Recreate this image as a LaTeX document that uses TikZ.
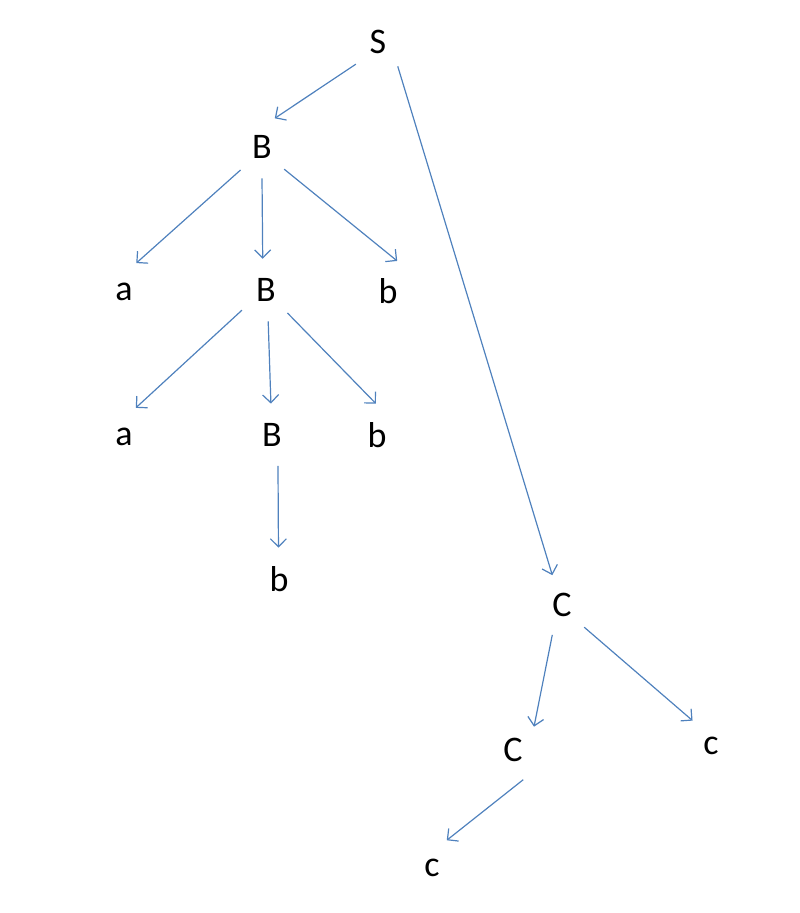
\documentclass[tikz,border=0pt]{standalone}
\usepackage{fontspec}
\setmainfont{Carlito}
\usetikzlibrary{arrows.meta}
\definecolor{treeblue}{RGB}{79,129,189}
\tikzset{sym/.style={circle, minimum size=31pt, inner sep=0pt, font=\fontsize{18}{20}\selectfont}}
\tikzset{arr/.style={draw=treeblue, line width=0.6pt, -{Straight Barb[length=4pt, width=8pt]}}}

\begin{document}
\begin{tikzpicture}[x=0.5pt, y=-0.5pt]
            \useasboundingbox (0,0) rectangle (799,913);
            \node[sym](S) at (378,42) {S};
            \node[sym](B1) at (262,147) {B};
            \node[sym](a1) at (124,292) {a};
            \node[sym](B2) at (266,290) {B};
            \node[sym](b1) at (388,291) {b};
            \node[sym](a2) at (124,437) {a};
            \node[sym](B3) at (272,435) {B};
            \node[sym](b2) at (377,435) {b};
            \node[sym](b3) at (279,579) {b};
            \node[sym](C1) at (562,605) {C};
            \node[sym](C2) at (513,750) {C};
            \node[sym](c1) at (711,746) {c};
            \node[sym](c2) at (432,868) {c};
            \draw[arr](S.225) to (B1.66);
            \draw[arr](S.309) to (C1.108);
            \draw[arr](B1.227) to (a1.67);
            \draw[arr](B1.270) to (B2.96);
            \draw[arr](B1.315) to (b1.73);
            \draw[arr](B2.220) to (a2.68);
            \draw[arr](B2.274) to (B3.92);
            \draw[arr](B2.313) to (b2.92);
            \draw[arr](B3.281) to (b3.91);
            \draw[arr](C1.252) to (C2.48);
            \draw[arr](C1.315) to (c1.126);
            \draw[arr](C2.289) to (c2.62);
        \end{tikzpicture}
\end{document}
